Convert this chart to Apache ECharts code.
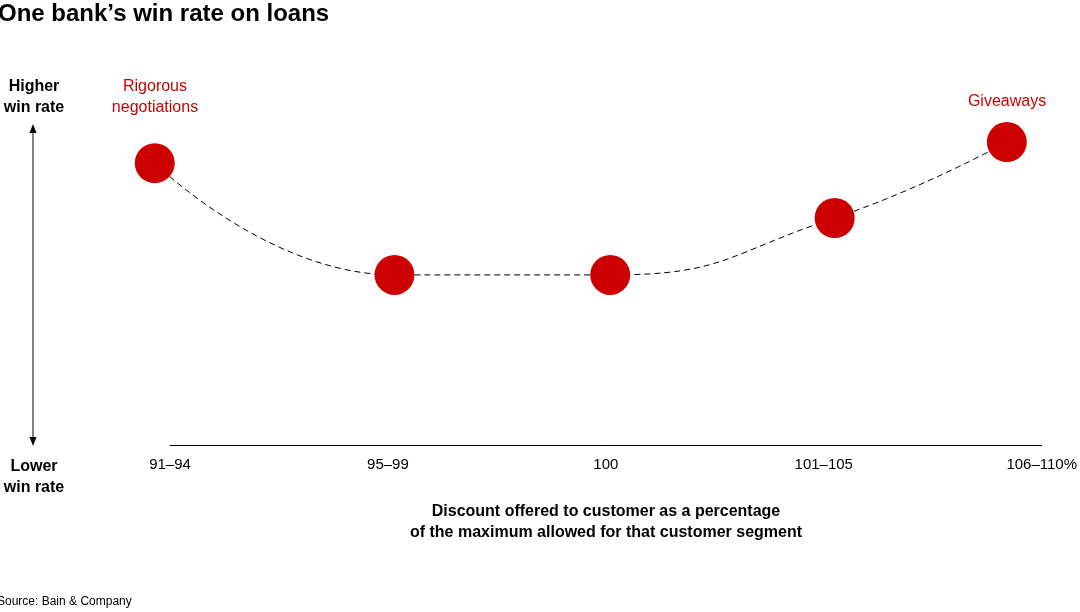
<!DOCTYPE html>
<html><head><meta charset="utf-8">
<script src="https://cdn.jsdelivr.net/npm/echarts@6/dist/echarts.min.js"></script>
<style>html,body{margin:0;padding:0;background:#fff}#c{width:1080px;height:612px}</style>
</head><body><div id="c"></div>
<script>
// discount buckets and win rate (relative)
const categories = ['91–94', '95–99', '100', '101–105', '106–110%'];
const pointPos = [-0.07, 1.03, 2.02, 3.05, 3.84];
const winRate = [81.7, 49.3, 49.3, 65.8, 87.8];

const chart = echarts.init(document.getElementById('c'));
const font = 'Arial, "Liberation Sans", sans-serif';
chart.setOption({
  animation: false,
  textStyle: { fontFamily: font },
  grid: { left: 170, right: 38, top: 100, bottom: 167 },
  xAxis: {
    type: 'value', min: 0, max: 4, interval: 1,
    splitLine: { show: false },
    axisTick: { show: false },
    axisLine: { show: true, lineStyle: { color: '#000', width: 1 } },
    axisLabel: {
      color: '#000', fontSize: 15, margin: 12,
      formatter: v => categories[v] || ''
    }
  },
  yAxis: {
    type: 'value', min: 0, max: 100, show: false, splitLine: { show: false }
  },
  series: [{
    type: 'line',
    clip: false,
    data: pointPos.map((x, i) => [x, winRate[i]]),
    smooth: 0.5,
    smoothMonotone: 'none',
    symbol: 'circle', symbolSize: 40,
    itemStyle: { color: '#cc0000' },
    lineStyle: { color: '#000', width: 1, type: [6, 4] },
    z: 3
  }],
  graphic: [
    { type: 'text', left: -2, top: 2, style: { text: 'One bank’s win rate on loans', font: 'bold 24px ' + font, fill: '#000' } },
    { type: 'text', x: 34, y: 76, style: { text: 'Higher\nwin rate', font: 'bold 16px ' + font, fill: '#000', align: 'center', lineHeight: 21 } },
    { type: 'text', x: 34, y: 456, style: { text: 'Lower\nwin rate', font: 'bold 16px ' + font, fill: '#000', align: 'center', lineHeight: 21 } },
    { type: 'line', shape: { x1: 33, y1: 128, x2: 33, y2: 442 }, style: { stroke: '#000', lineWidth: 1 } },
    { type: 'polygon', shape: { points: [[33, 124], [29.5, 133], [36.5, 133]] }, style: { fill: '#000' } },
    { type: 'polygon', shape: { points: [[33, 446], [29.5, 437], [36.5, 437]] }, style: { fill: '#000' } },
    { type: 'text', x: 155, y: 76, style: { text: 'Rigorous\nnegotiations', font: '16px ' + font, fill: '#cc0000', align: 'center', lineHeight: 21 } },
    { type: 'text', x: 1007, y: 94, style: { text: 'Giveaways', font: '16px ' + font, fill: '#cc0000', align: 'center' } },
    { type: 'text', x: 606, y: 501, style: { text: 'Discount offered to customer as a percentage\nof the maximum allowed for that customer segment', font: 'bold 16px ' + font, fill: '#000', align: 'center', lineHeight: 21 } },
    { type: 'text', left: -3, top: 596, style: { text: 'Source: Bain & Company', font: '12px ' + font, fill: '#000' } }
  ]
});
</script></body></html>
